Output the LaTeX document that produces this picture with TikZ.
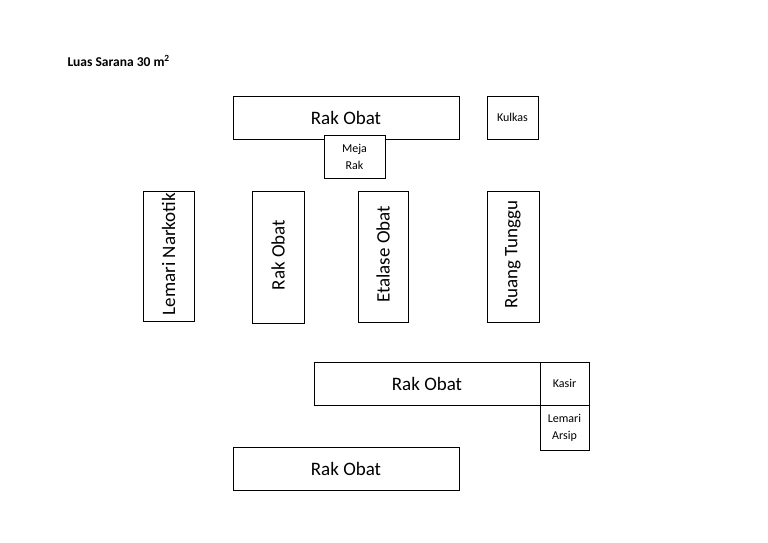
\documentclass[tikz,border=0pt]{standalone}
\usepackage{fontspec}
\setmainfont{Carlito}
\begin{document}
\begin{tikzpicture}[x=1pt,y=-1pt,
 box/.style={draw,fill=white,line width=0.7pt,inner sep=0pt},
 big/.style={font=\fontsize{19}{22}\selectfont},
 small/.style={font=\fontsize{12}{17}\selectfont,align=center}]
\useasboundingbox (0,0) rectangle (768,543);
\node[anchor=west,font=\bfseries\fontsize{13.5}{15}\selectfont] (t) at (64,61) {Luas Sarana 30 m\textsuperscript{2}};
\draw[box] (233,96) rectangle (459,139); \node[big] (r1) at (346,117.5) {Rak Obat};
\draw[box] (487,96) rectangle (538,139); \node[small] (k) at (512.5,117.5) {Kulkas};
\draw[box] (324,135) rectangle (385,178); \node[small] (m) at (354.5,156.5) {Meja\\Rak};
\draw[box] (143,191) rectangle (194,321); \node[big,rotate=90] (ln) at (168.5,254) {Lemari Narkotik};
\draw[box] (252,191) rectangle (304,323); \node[big,rotate=90] (r2) at (278,255) {Rak Obat};
\draw[box] (358,191) rectangle (408,322); \node[big,rotate=90] (eo) at (383,254.5) {Etalase Obat};
\draw[box] (487,191) rectangle (539,322); \node[big,rotate=90] (rt) at (513,254.5) {Ruang Tunggu};
\draw[box] (314,362) rectangle (540,405); \node[big] (r3) at (427,383.5) {Rak Obat};
\draw[box] (540,362) rectangle (589,405); \node[small] (ks) at (564.5,383.5) {Kasir};
\draw[box] (540,405) rectangle (589,450); \node[small] (la) at (564.5,427.5) {Lemari\\Arsip};
\draw[box] (233,447) rectangle (459,490); \node[big] (r4) at (346,468.5) {Rak Obat};
\end{tikzpicture}
\end{document}
